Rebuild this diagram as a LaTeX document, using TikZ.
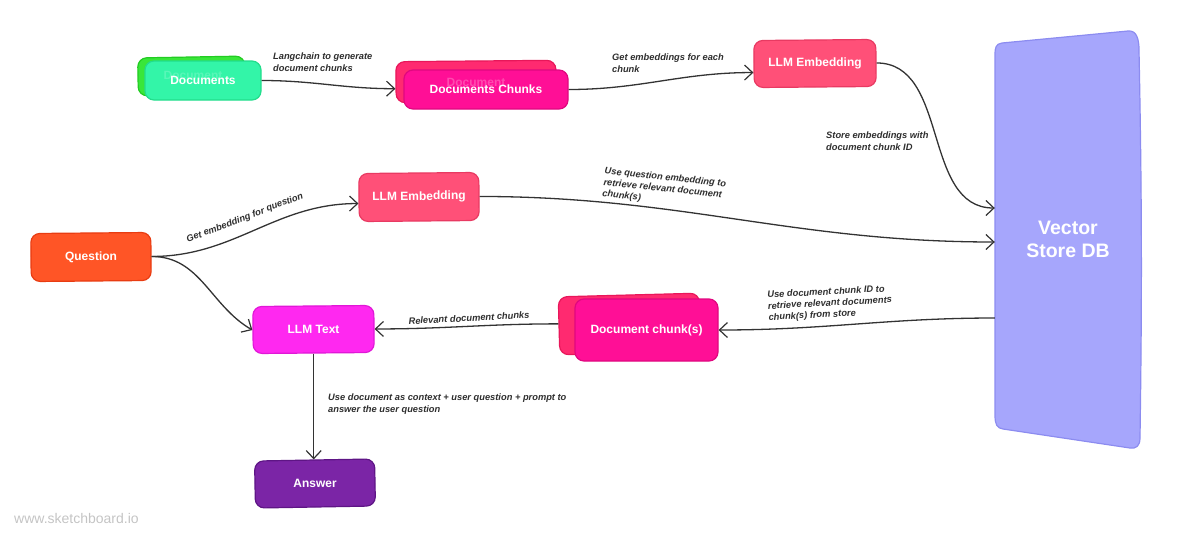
\documentclass[tikz,border=0pt]{standalone}
\usepackage{fontspec}
\setmainfont{Liberation Sans}
\usetikzlibrary{arrows.meta}
\definecolor{greenback}{HTML}{39E639}
\definecolor{greenbackd}{HTML}{22CC22}
\definecolor{greenfront}{HTML}{33F5A8}
\definecolor{greenfrontd}{HTML}{22DD8C}
\definecolor{pinkback}{HTML}{FF2A70}
\definecolor{pinkbackd}{HTML}{E8175A}
\definecolor{pinkfront}{HTML}{FF0F96}
\definecolor{pinkfrontd}{HTML}{E0087F}
\definecolor{embc}{HTML}{FF5078}
\definecolor{embd}{HTML}{E83A62}
\definecolor{questc}{HTML}{FF5526}
\definecolor{questd}{HTML}{E83C12}
\definecolor{llmc}{HTML}{FF28F0}
\definecolor{llmd}{HTML}{E018D6}
\definecolor{ansc}{HTML}{7B25A6}
\definecolor{ansd}{HTML}{5E1585}
\definecolor{vdbc}{HTML}{A6A6FC}
\definecolor{vdbd}{HTML}{8C8CF0}
\definecolor{linec}{HTML}{333333}
\definecolor{labelc}{HTML}{2E2E2E}
\definecolor{wmark}{HTML}{C4C4C4}
\tikzset{
  card/.style={rounded corners=9pt, line width=1.2pt, text=white,
    font=\bfseries\fontsize{12}{14}\selectfont, inner sep=0pt, align=center},
  conn/.style={draw=linec, line width=1.3pt,
    -{Straight Barb[length=8pt,width=15pt,line width=1.2pt]}},
  lbl/.style={font=\bfseries\itshape\fontsize{9.3}{11.3}\selectfont, text=labelc,
    align=left, inner sep=0pt},
  faint/.style={font=\bfseries\fontsize{12}{14}\selectfont, inner sep=0pt},
}
\begin{document}
\begin{tikzpicture}[x=1pt,y=1pt]
\useasboundingbox (0,0) rectangle (1200,-539);

% Documents
\node[card, fill=greenback, draw=greenbackd, minimum width=107pt, minimum height=38pt, rotate=1] (docsback) at (191.5,-76) {};
\node[card, fill=greenfront, draw=greenfrontd, minimum width=116pt, minimum height=39pt,
  path picture={\node[faint, text=greenfront!82!white] at ([xshift=-10pt,yshift=5.5pt]path picture bounding box.center) {Document};}] (docs) at (203,-80.5) {Documents};

% Documents Chunks
\node[card, fill=pinkback, draw=pinkbackd, minimum width=160pt, minimum height=41pt, rotate=0.5] (chunksback) at (476,-81.5) {};
\node[card, fill=pinkfront, draw=pinkfrontd, minimum width=164pt, minimum height=39pt,
  path picture={\node[faint, text=pinkfront!75!white] at ([xshift=-10pt,yshift=7.5pt]path picture bounding box.center) {Document};}] (chunks) at (486,-89.5) {Documents Chunks};

% LLM Embedding (top)
\node[card, fill=embc, draw=embd, minimum width=122pt, minimum height=47pt, rotate=0.5] (emb1) at (815,-63.5) {LLM Embedding};

% Vector store
\draw[fill=vdbc, draw=vdbd, line width=1.2pt]
  (1002,-43) -- (1128,-31) .. controls (1137,-30) and (1139,-40) .. (1139,-50)
  .. controls (1142,-200) and (1142,-300) .. (1140,-438)
  .. controls (1140,-446) and (1136,-449) .. (1130,-448)
  -- (1003,-429) .. controls (997,-428) and (995,-425) .. (995,-415)
  -- (995,-55) .. controls (995,-47) and (996,-44) .. cycle;
\node[font=\bfseries\fontsize{19.5}{23}\selectfont, text=white, align=center,
  minimum width=146pt, minimum height=400pt, inner sep=0pt] (vdb) at (1068,-239) {Vector\\Store DB};

% LLM Embedding (middle)
\node[card, fill=embc, draw=embd, minimum width=120pt, minimum height=48pt, rotate=0.5] (emb2) at (419,-197) {LLM Embedding};

% Question
\node[card, fill=questc, draw=questd, minimum width=120pt, minimum height=48pt, rotate=0.5] (question) at (91,-257) {Question};

% LLM Text
\node[card, fill=llmc, draw=llmd, minimum width=121pt, minimum height=47pt, rotate=0.5] (llmtext) at (313.5,-329.5) {LLM Text};

% Document chunk(s)
\node[card, fill=pinkback, draw=pinkbackd, minimum width=141pt, minimum height=58pt, rotate=1.5] (dcback) at (629.5,-324) {};
\node[card, fill=pinkfront, draw=pinkfrontd, minimum width=143pt, minimum height=62pt] (dc) at (646.5,-330) {Document chunk(s)};

% Answer
\node[card, fill=ansc, draw=ansd, minimum width=120pt, minimum height=47pt, rotate=1] (answer) at (315,-483.5) {Answer};

% Connectors
\draw[conn] (docs.east) to[out=0,in=180] ([yshift=-6.5pt]chunksback.west);
\draw[conn] (chunks.east) to[out=0,in=180] ([yshift=-8.5pt]emb1.west);
\draw[conn] (emb1.east) to[out=0,in=180] ([yshift=31pt]vdb.west);
\draw[conn] (question.east) to[out=0,in=180] ([yshift=-6pt]emb2.west);
\draw[conn] (emb2.east) to[out=0,in=180] ([yshift=-3pt]vdb.west);
\draw[conn] (question.east) to[out=0,in=150] (llmtext.west);
\draw[conn] ([yshift=-79pt]vdb.west) to[out=180,in=0] (dc.east);
\draw[conn] ([yshift=2pt]dcback.west) to[out=180,in=0] (llmtext.east);
\draw[conn] (llmtext.south) -- (llmtext.south |- answer.north);

% Labels
\node[lbl, anchor=north west] (l1) at (273,-53) {Langchain to generate\\document chunks};
\node[lbl, anchor=north west] (l2) at (612,-54) {Get embeddings for each\\chunk};
\node[lbl, anchor=north west] (l3) at (826,-132) {Store embeddings with\\document chunk ID};
\node[lbl, rotate=21] (l4) at (245,-218) {Get embedding for question};
\node[lbl, anchor=north west, rotate=-6] (l5) at (605,-167) {Use question embedding to\\retrieve relevant document\\chunk(s)};
\node[lbl, anchor=north west, rotate=3] (l6) at (767,-291) {Use document chunk ID to\\retrieve relevant documents\\chunk(s) from store};
\node[lbl, rotate=3] (l7) at (469,-318) {Relevant document chunks};
\node[lbl, anchor=north west] (l8) at (328,-394) {Use document as context + user question + prompt to\\answer the user question};

% Watermark
\node[font=\fontsize{14}{16}\selectfont, text=wmark, anchor=west, inner sep=0pt] (wm) at (14,-518) {www.sketchboard.io};
\end{tikzpicture}
\end{document}
